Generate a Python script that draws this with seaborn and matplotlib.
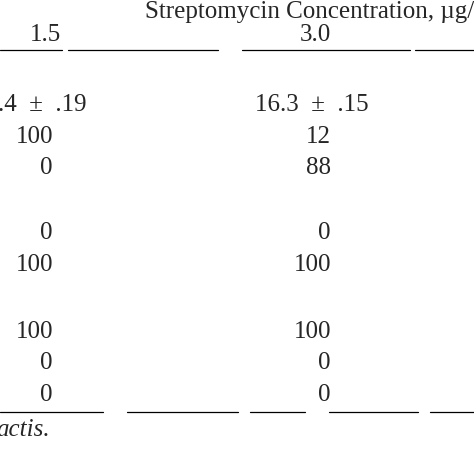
import matplotlib
matplotlib.use("Agg")
import matplotlib.pyplot as plt
import seaborn as sns

sns.set_theme(style="white")
plt.rcParams['font.family'] = ['Liberation Serif', 'DejaVu Serif']

header = "Streptomycin Concentration, µg/m"
col_labels = ["1.5", "3.0"]
row_y = [105, 137, 168, 233, 265, 332, 363, 395]
col15 = [".4  ±  .19", "100", "0", "0", "100", "100", "0", "0"]
col30 = ["16.3  ±  .15", "12", "88", "0", "100", "100", "0", "0"]
footnote = "actis."

fig = plt.figure(figsize=(4.74, 4.74), dpi=100)
ax = fig.add_axes([0, 0, 1, 1])
ax.set_xlim(0, 474)
ax.set_ylim(474, 0)
ax.axis("off")
fs = 18

ax.text(145, 12, header, fontsize=fs, va="center", ha="left")
ax.text(45, 35, col_labels[0], fontsize=fs, va="center", ha="center")
ax.text(315, 35, col_labels[1], fontsize=fs, va="center", ha="center")
for a, b in [(0, 62), (68, 218), (242, 410), (415, 474)]:
    ax.plot([a, b], [50, 50], color="black", lw=0.9)

for i, (y, v1, v2) in enumerate(zip(row_y, col15, col30)):
    if i == 0:
        ax.text(-2, y, v1, fontsize=fs, va="center", ha="left")
        ax.text(255, y, v2, fontsize=fs, va="center", ha="left")
    else:
        ax.text(53, y, v1, fontsize=fs, va="center", ha="right")
        ax.text(331, y, v2, fontsize=fs, va="center", ha="right")

for a, b in [(0, 103), (127, 238), (250, 305), (329, 418), (430, 474)]:
    ax.plot([a, b], [412, 412], color="black", lw=0.9)
ax.text(-4, 430, footnote, fontsize=fs, va="center", ha="left", style="italic")

fig.savefig("out.png", dpi=100)
